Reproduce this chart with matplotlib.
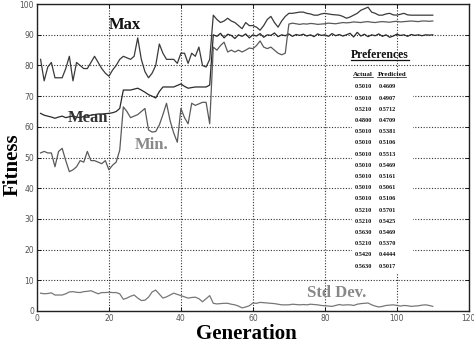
import matplotlib
matplotlib.use("Agg")
import matplotlib.pyplot as plt
from matplotlib.patches import Rectangle
from matplotlib.lines import Line2D
import numpy as np

generations = list(range(1, 111))

max_fit = [82, 75, 79.5, 81, 76, 76, 76, 79, 83, 75, 81, 80, 79, 79, 81, 83, 81, 79, 77.5, 76.5,
           78.5, 80, 82, 83, 82.5, 82, 83, 89, 82, 78, 76, 77.5, 80, 87, 84, 82, 82, 82, 80.7, 84,
           84, 80.7, 84, 83, 86, 80, 79.5, 82,
           96.4, 95, 94, 94.5, 95.4, 94.5, 94, 93, 92, 94, 93, 93, 92.5, 91.5, 93, 95, 96, 94,
           92.5, 94.5, 96, 97, 97, 97.2, 97.4, 97.4, 97, 96.8, 96.4, 96.4, 96.8, 97, 96.8, 96.6,
           96.5, 96.4, 96, 95.4, 95.8, 96.4, 97, 98, 98.5, 99, 97.4, 97, 96.4, 96.4, 96.8, 97,
           96.5, 96.4, 96.7, 97, 96.5, 96.4, 96.4, 96.4, 96.4, 96.4, 96.4, 96.4]

mean_fit = [64.4, 63.8, 63.5, 63.2, 62.8, 63.2, 63.5, 63, 63.3, 63.5, 63.2, 63, 63.4, 63.6, 63.8,
            64, 64.2, 64.2, 64.3, 64.4, 64.6, 65, 66, 72, 72, 72, 72.3, 72.6, 72, 71.3, 70.5, 70,
            69.4, 71.5, 73, 73, 73, 73, 73.5, 74, 73.2, 72.6, 72.8, 73, 73, 73, 73, 73.6,
            90, 89.5, 90.5, 89, 90.2, 89.8, 88.8, 90, 89.5, 90.3, 89, 90, 89.6, 90.4, 89.2, 90,
            89.8, 90.6, 89.4, 90, 89.7, 90.3, 89.5, 90.1, 89.8, 90.2, 89.6, 90, 89.4, 90.3, 89.8,
            90, 89.5, 90.4, 89.7, 90.1, 89.6, 90, 90.5, 89.3, 90.8, 89.6, 90.2, 89.4, 90, 89.7,
            90.3, 89.5, 90, 89.2, 89.6, 90.2, 89.8, 90, 89.5, 90.1, 89.8, 90, 89.7, 90, 89.9, 90]

min_fit = [51.5, 52, 51.5, 51.5, 47, 52, 53, 49, 45.4, 46, 47, 49, 48.5, 52, 49, 49, 48.5, 48,
           49, 46, 47.5, 48.5, 52.4, 66.5, 65, 63, 63.5, 64, 65, 66, 59, 58.3, 58.5, 60.6, 64,
           67.7, 62, 58, 55, 66, 63, 61, 67.7, 67, 67.5, 68, 68, 61,
           86, 85, 86.5, 87.6, 84.4, 85, 84.4, 85, 84.4, 85, 85.7, 85.5, 86.5, 88, 86, 85.5, 86,
           85, 84, 83.5, 84, 93.5, 93.8, 93.6, 93.4, 93.6, 93.5, 93.7, 93.6, 93.4, 93.5, 93.6,
           93.8, 93.7, 93.6, 93.8, 94, 93.9, 94, 94.2, 94.1, 94, 94.2, 94.3, 94.1, 94, 94.2, 94.3,
           94.2, 94.1, 94.3, 94.4, 94.2, 94.3, 94.4, 94.5, 94.4, 94.3, 94.5, 94.5, 94.4, 94.5]

std_dev = [5.8, 5.6, 5.7, 5.9, 5.2, 5.2, 5.2, 5.6, 6.2, 6.3, 6.1, 6, 6.3, 6.4, 6.6, 6.1, 5.6, 6,
           6, 6.1, 6, 6, 5.6, 3.8, 4.2, 4.8, 5.2, 4.2, 3.4, 3.5, 4.5, 6.2, 6.8, 5.5, 4.2, 4.6, 5.2,
           5.8, 5.4, 5, 4.6, 4.2, 4.4, 4.5, 4, 3, 4, 5, 2.5, 2.3, 2.4, 2.5, 2.5, 2.2, 2, 1.6, 1,
           1.3, 1.7, 2.6, 2.5, 2.8, 2.7, 2.6, 2.5, 2.4, 2.2, 2, 2, 2, 2.2, 2.1, 2, 2.1, 2, 2.2, 2.1,
           2, 1.8, 1.7, 1.6, 1.5, 1.8, 2.1, 1.9, 2, 2, 1.8, 2.2, 2.4, 2.5, 2.6, 2, 1.6, 1.3, 1.5,
           1.8, 1.9, 2, 1.8, 1.6, 1.8, 1.7, 1.5, 1.6, 1.7, 1.9, 2, 1.8, 1.5]

pref_actual = ["0.5010", "0.5010", "0.5210", "0.4800", "0.5010", "0.5010", "0.5010", "0.5010",
               "0.5010", "0.5010", "0.5010", "0.5210", "0.5210", "0.5630", "0.5210", "0.5420",
               "0.5630"]
pref_predicted = ["0.4609", "0.4907", "0.5712", "0.4709", "0.5381", "0.5106", "0.5513", "0.5469",
                  "0.5161", "0.5061", "0.5106", "0.5701", "0.5425", "0.5469", "0.5370", "0.4444",
                  "0.5017"]

x_ticks = [0, 20, 40, 60, 80, 100, 120]
y_ticks = list(range(0, 101, 10))

serif = "Liberation Serif"

fig = plt.figure(figsize=(4.74, 3.44), dpi=100)
ax = fig.add_axes([0.078, 0.096, 0.911, 0.892])
ax.set_xlim(0, 120)
ax.set_ylim(0, 100)
ax.set_xticks(x_ticks)
ax.set_yticks(y_ticks)
ax.tick_params(direction="in", length=3, width=0.6, labelsize=5.5, labelcolor="#555555",
               pad=2, top=True, right=True)
for lab in ax.get_xticklabels() + ax.get_yticklabels():
    lab.set_family("DejaVu Sans")
for s in ax.spines.values():
    s.set_linewidth(1.0)
    s.set_color("#222222")
ax.grid(True, linestyle=(0, (1, 1.5)), color="#333333", linewidth=0.8)
ax.set_axisbelow(True)

lw = 0.9
ax.plot(generations, max_fit, color="#3a3a3a", lw=lw, zorder=3)
ax.plot(generations, mean_fit, color="#2a2a2a", lw=lw, zorder=3)
ax.plot(generations, min_fit, color="#5a5a5a", lw=lw, zorder=3)
ax.plot(generations, std_dev, color="#777777", lw=lw, zorder=3)

lab_kw = dict(family=serif, fontweight="bold", fontsize=12, ha="center", va="center", zorder=5)
ax.text(24.5, 93.2, "Max", color="#111111", **lab_kw)
ax.text(14.2, 62.8, "Mean", color="#333333", **lab_kw)
ax.text(32, 54, "Min.", color="#888888", **lab_kw)
ax.text(83.4, 5.9, "Std Dev.", color="#888888", **lab_kw)

# white panel behind preference table
ax.add_patch(Rectangle((87.5, 12.5), 17, 63, facecolor="white", edgecolor="none", zorder=2))

to_underline = []
t = ax.text(95.3, 83.4, "Preferences", family=serif, fontweight="bold", fontsize=8.5,
            ha="center", va="center", color="#111111", zorder=5)
to_underline.append((t, 0.9))
t = ax.text(90.5, 77.0, "Actual", family=serif, fontweight="bold", fontsize=5,
            ha="center", va="center", color="#111111", zorder=5)
to_underline.append((t, 0.5))
t = ax.text(98.6, 77.0, "Predicted", family=serif, fontweight="bold", fontsize=5,
            ha="center", va="center", color="#111111", zorder=5)
to_underline.append((t, 0.5))

row_top = 73.0
row_step = 3.65
for i, (a, p) in enumerate(zip(pref_actual, pref_predicted)):
    yy = row_top - i * row_step
    ax.text(90.7, yy, a, family=serif, fontweight="bold", fontsize=4.5, ha="center",
            va="center", color="#111111", zorder=5)
    ax.text(97.3, yy, p, family=serif, fontweight="bold", fontsize=4.5, ha="center",
            va="center", color="#111111", zorder=5)

fig.text(0.027, 0.52, "Fitness", family=serif, fontweight="bold", fontsize=15,
         rotation=90, ha="center", va="center")
fig.text(0.52, 0.03, "Generation", family=serif, fontweight="bold", fontsize=15,
         ha="center", va="center")

fig.canvas.draw()
renderer = fig.canvas.get_renderer()
inv = fig.transFigure.inverted()
for txt, w in to_underline:
    bb = txt.get_window_extent(renderer)
    (x0, y0), (x1, _) = inv.transform([(bb.x0, bb.y0), (bb.x1, bb.y0)])
    fig.add_artist(Line2D([x0, x1], [y0 + 0.002, y0 + 0.002], transform=fig.transFigure,
                          color="#111111", lw=w))

fig.savefig("out.png", dpi=100)
